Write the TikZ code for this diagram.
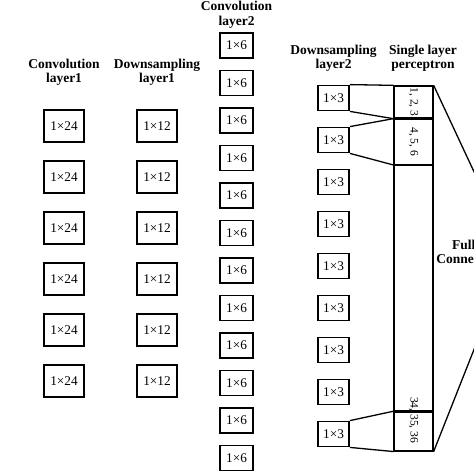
\documentclass[tikz,border=0pt]{standalone}
\usepackage{fontspec}
\setmainfont{Liberation Serif}
\usetikzlibrary{positioning}

\begin{document}
\begin{tikzpicture}[x=1pt,y=-1pt,
    box/.style={draw,line width=1.8pt,inner sep=0pt,font=\fontsize{13.3}{15}\selectfont},
    bigbox/.style={box,minimum width=40pt,minimum height=32pt},
    smallbox/.style={box,minimum width=32pt,minimum height=25pt},
    title/.style={align=center,inner sep=0pt,font=\bfseries\fontsize{13.5}{14.5}\selectfont},
    cell/.style={draw,line width=1.3pt,minimum width=39pt,inner sep=0pt},
    celltext/.style={rotate=-90,inner sep=0pt,font=\fontsize{11.5}{13}\selectfont},
    link/.style={line width=1.3pt}]
    \useasboundingbox (0,0) rectangle (474,474);

    % column titles
    \node[title] (t1) at (64,72.5) {Convolution\\layer1};
    \node[title] (t2) at (157,72.5) {Downsampling\\layer1};
    \node[title] (t3) at (236.5,15) {Convolution\\layer2};
    \node[title] (t4) at (333.5,58.5) {Downsampling\\layer2};
    \node[title] (t5) at (423,58.5) {Single layer\\perceptron};

    % convolution layer1 and downsampling layer1
    \node[bigbox] (cv1) at (64,126) {1×24};
    \node[bigbox] (ds1) at (157,126) {1×12};
    \foreach \i [count=\j from 2] in {1,...,5} {
        \node[bigbox, below of=cv\i, node distance=51pt] (cv\j) {1×24};
        \node[bigbox, below of=ds\i, node distance=51pt] (ds\j) {1×12};
    }

    % convolution layer2
    \node[smallbox, minimum width=33pt] (cw1) at (236.5,45.5) {1×6};
    \foreach \i [count=\j from 2] in {1,...,11}
        \node[smallbox, minimum width=33pt, below of=cw\i, node distance=37.5pt] (cw\j) {1×6};

    % downsampling layer2
    \node[smallbox, minimum width=31pt] (dw1) at (333.5,98) {1×3};
    \foreach \i [count=\j from 2] in {1,...,8}
        \node[smallbox, minimum width=31pt, below of=dw\i, node distance=42pt] (dw\j) {1×3};

    % single layer perceptron
    \node[cell, minimum height=32pt] (c1) at (413.5,102) {};
    \node[cell, minimum height=45pt, below=0pt of c1] (c2) {};
    \node[cell, minimum height=245pt, below=0pt of c2] (c3) {};
    \node[cell, minimum height=39pt, below=0pt of c3] (c4) {};
    \node[celltext] (l1) at (c1) {1, 2, 3};
    \node[celltext] (l2) at (c2) {4, 5, 6};
    \node[celltext] (l4) at (413.5,420) {34, 35, 36};

    \draw[link] (dw1.north east) -- (c1.north west);
    \draw[link] (dw1.south east) -- (c1.south west);
    \draw[link] (dw2.north east) -- (c2.north west);
    \draw[link] (dw2.south east) -- (c2.south west);
    \draw[link] (dw9.north east) -- (c4.north west);
    \draw[link] (dw9.south east) -- (c4.south west);

    % fully connected
    \node[title] (fc) at (467,252) {Fully\\Connected};
    \coordinate (fctop) at (490,206);
    \coordinate (fcbot) at (490,309);
    \draw[link] (c1.north east) -- (fctop);
    \draw[link] (c4.south east) -- (fcbot);
\end{tikzpicture}
\end{document}
